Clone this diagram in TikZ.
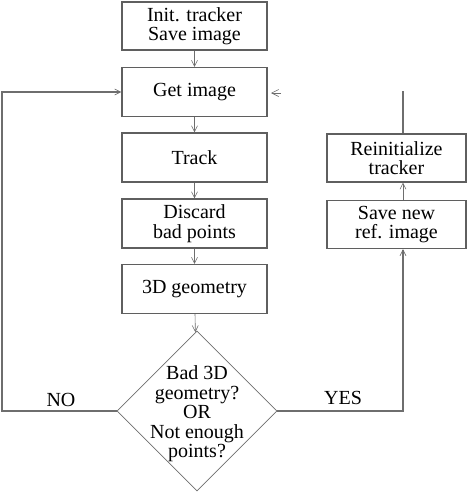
\documentclass[tikz,border=0pt]{standalone}
\usepackage{fontspec}
\setmainfont{Liberation Serif}
\usetikzlibrary{shapes.geometric,arrows.meta}
\definecolor{edge}{RGB}{95,95,95}
\definecolor{conn}{RGB}{110,110,110}
\begin{document}
\begin{tikzpicture}[x=1pt,y=-1pt,
  every node/.style={font=\fontsize{20}{19.5}\selectfont, align=center},
  box/.style={draw=edge, line width=1.1pt, minimum width=145pt, minimum height=49pt, inner sep=0pt},
  rbox/.style={draw=edge, line width=1.1pt, minimum width=139pt, minimum height=48pt, inner sep=0pt},
  link/.style={draw=conn, line width=0.6pt, -{Straight Barb[length=6pt,width=6pt]}},
  wire/.style={draw=conn, line width=1.1pt},
  wirearrow/.style={draw=conn, line width=1.1pt, -{Straight Barb[length=6pt,width=6pt,line width=0.7pt]}}]
\useasboundingbox (0,0) rectangle (474,493);
\node[box, minimum height=48pt] (init) at (194.5,26) {Init. tracker\\Save image};
\node[box] (get) at (194.5,92) {Get image};
\node[box] (track) at (194.5,157.5) {Track};
\node[box] (disc) at (194.5,223.5) {Discard\\bad points};
\node[box] (geo) at (194.5,289) {3D geometry};
\node[diamond, draw=conn, line width=0.8pt, minimum width=160pt, minimum height=160pt, inner sep=0pt] (dec) at (197,411) {};
\node (dectext) at (197,414) {Bad 3D\\geometry?\\OR\\Not enough\\points?};
\node[rbox] (reinit) at (396.5,158) {Reinitialize\\tracker};
\node[rbox] (save) at (396.5,224.5) {Save new\\ref. image};
\node (no) at (61,400) {NO};
\node (yes) at (343,398) {YES};
\coordinate (nocorner) at (2,411);
\coordinate (yescorner) at (403,411);
\coordinate (topend) at (403,91);
\coordinate (tipstart) at (281,93);
\coordinate (tipend) at (271,93);
\draw[link] (init) -- (get);
\draw[link] (get) -- (track);
\draw[link] (track) -- (disc);
\draw[link] (disc) -- (geo);
\draw[link] (geo) -- (dec);
\draw[wirearrow] (dec.west) -- (nocorner) |- (get.west);
\draw[wirearrow] (dec.east) -- (yescorner) -- (yescorner |- save.south);
\draw[link] (save.north -| yescorner) -- (yescorner |- reinit.south);
\draw[wire] (reinit.north -| yescorner) -- (topend);
\draw[draw=conn, line width=0.6pt, -{Straight Barb[length=7pt,width=7pt]}] (tipstart) -- (tipend);
\end{tikzpicture}
\end{document}
